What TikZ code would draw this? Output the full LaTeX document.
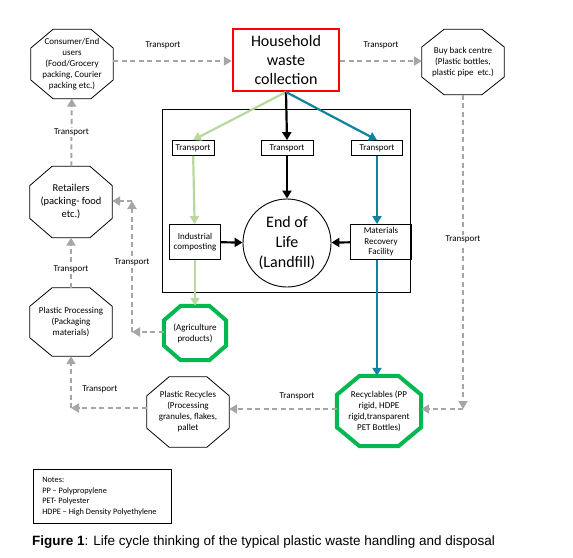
\documentclass[tikz,border=0pt]{standalone}
\usepackage{fontspec}
\setmainfont{Carlito}
\newfontfamily\capfont{Liberation Sans}
\usetikzlibrary{shapes,arrows,arrows.meta,positioning,calc}
\definecolor{dashgray}{RGB}{166,166,166}
\definecolor{lgreen}{RGB}{184,216,158}
\definecolor{tealline}{RGB}{16,132,156}
\definecolor{bgreen}{RGB}{0,184,80}
\tikzset{
octshape/.style = {append after command={\pgfextra{\draw [#1, line join=miter]
    ($(\tikzlastnode.north west)!.27!(\tikzlastnode.north east)$) -- ($(\tikzlastnode.north east)!.27!(\tikzlastnode.north west)$)
 -- ($(\tikzlastnode.north east)!.27!(\tikzlastnode.south east)$) -- ($(\tikzlastnode.south east)!.27!(\tikzlastnode.north east)$)
 -- ($(\tikzlastnode.south east)!.27!(\tikzlastnode.south west)$) -- ($(\tikzlastnode.south west)!.27!(\tikzlastnode.south east)$)
 -- ($(\tikzlastnode.south west)!.27!(\tikzlastnode.north west)$) -- ($(\tikzlastnode.north west)!.27!(\tikzlastnode.south west)$) -- cycle;}}},
octnode/.style = {rectangle, minimum width=82pt, minimum height=70pt, inner sep=0pt, align=center, font=\fontsize{9}{11}\selectfont, octshape={black, line width=0.8pt}},
greenoct/.style = {rectangle, minimum width=84pt, minimum height=70pt, inner sep=0pt, align=center, font=\fontsize{9}{11}\selectfont, octshape={bgreen, line width=4pt}},
smallbox/.style = {draw, line width=0.8pt, rectangle, minimum height=15pt, inner sep=1pt, align=center, font=\fontsize{9}{10.5}\selectfont},
lbl/.style = {text=black, font=\fontsize{9}{11}\selectfont, inner sep=1pt},
dasharrow/.style = {->, dashgray, line width=2pt, dash pattern=on 5pt off 3.5pt},
flow/.style = {->, line width=2.2pt}
}
\begin{document}
\begin{tikzpicture}[x=1pt, y=-1pt, >={Triangle[length=8pt,width=9pt]}]
        \useasboundingbox (0,0) rectangle (573,557);
        % frame round the landfill part
        \node [draw, line width=0.9pt, minimum width=248pt, minimum height=183pt] (frame) at (286,200.5) {};
        \node [draw=red, line width=2.5pt, minimum width=106pt, minimum height=62pt, align=center, font=\fontsize{16}{19}\selectfont] (household) at (286,60) {Household\\waste\\collection};
        \node [octnode, minimum height=69pt] (consumer) at (72,64) {Consumer/End\\users\\(Food/Grocery\\packing, Courier\\packing etc.)};
        \node [octnode, minimum height=65pt] (buyback) at (463,62) {Buy back centre\\(Plastic bottles,\\plastic pipe~ etc.)};
        \node [octnode, minimum height=71pt, font=\fontsize{10.5}{13}\selectfont] (retail) at (71,202) {Retailers\\(packing- food\\etc.)};
        \node [octnode, minimum height=68pt] (pproc) at (71,322) {Plastic Processing\\(Packaging\\materials)};
        \node [octnode] (precycle) at (188,412) {Plastic Recycles\\(Processing\\granules, flakes,\\pallet};
        \node [greenoct, minimum width=62pt, minimum height=54pt] (agri) at (195,333) {(Agriculture\\products)};
        \node [greenoct] (recyc) at (379,411) {Recyclables (PP\\rigid, HDPE\\rigid,transparent\\PET Bottles)};
        % inside the frame
        \node [smallbox, minimum width=42pt] (trL) at (193,148) {Transport};
        \node [smallbox, minimum width=52pt] (trM) at (287,148) {Transport};
        \node [smallbox, minimum width=51pt] (trR) at (377,148) {Transport};
        \node [smallbox, minimum width=51pt, minimum height=35pt] (compost) at (195,242) {Industrial\\composting};
        \node [smallbox, minimum width=61pt, minimum height=35pt] (mrf) at (381,242) {Materials\\Recovery\\Facility};
        \node [draw, circle, line width=0.9pt, minimum size=88pt, inner sep=0pt, align=center, font=\fontsize{16}{20}\selectfont] (eol) at (287,243) {End of\\Life\\(Landfill)};
        \node [draw, line width=0.8pt, anchor=north west, minimum width=138pt, minimum height=54pt, align=left, inner sep=3pt, font=\fontsize{8.3}{10.7}\selectfont] (notes) at (33,469) {Notes:\\PP -- Polypropylene\\PET- Polyester\\HDPE -- High Density Polyethylene\hspace*{6pt}};
        \node [anchor=west, inner sep=0pt, font=\capfont\fontsize{13.5}{16}\selectfont] (caption) at (32,542) {\textbf{Figure 1}: Life cycle thinking of the typical plastic waste handling and disposal};
        \coordinate (hsouth) at (286,92);
        \coordinate (bbc) at (463,409);
        \coordinate (pp1) at (71,408);
        \coordinate (ag1) at (132,332);
        \coordinate (ag2) at (132,201);
        % coloured flows
        \draw [flow, lgreen] (hsouth) -- (trL.north);
        \draw [flow, black] (hsouth) -- (trM.north);
        \draw [flow, tealline] (hsouth) -- (trR.north);
        \draw [flow, lgreen] (trL) -- (compost);
        \draw [flow, lgreen] (compost) -- (agri);
        \draw [flow, black] (trM) -- (eol);
        \draw [flow, tealline] (trR) -- (trR |- mrf.north);
        \draw [flow, tealline] (trR |- mrf.south) -- (recyc.north -| trR);
        \draw [flow, black] (compost) -- (eol);
        \draw [flow, black] (mrf) -- (eol);
        % transport loop
        \draw [dasharrow] (consumer.east |- 0,61) -- node [lbl, above=10pt, pos=.42, name=t1] {Transport} (household.west |- 0,61);
        \draw [dasharrow] (household.east |- 0,61) -- node [lbl, above=10pt, name=t2] {Transport} (buyback.west |- 0,61);
        \draw [dasharrow] (buyback) -- node [lbl, fill=white, pos=.46, name=t3] {Transport} (bbc);
        \draw [dasharrow] (bbc) -- (recyc.east |- bbc);
        \draw [dasharrow] (recyc.west |- 0,409) -- node [lbl, above=7pt, pos=.37, name=t4] {Transport} (precycle.east |- 0,409);
        \draw [dasharrow] (precycle.west |- pp1) -- node [lbl, above=13pt, pos=.62, name=t5] {Transport} (pp1);
        \draw [dasharrow] (pp1) -- (pproc);
        \draw [dasharrow] (pproc) -- node [lbl, fill=white, pos=.36, name=t6] {Transport} (retail);
        \draw [dasharrow] (retail) -- node [lbl, fill=white, name=t7] {Transport} (consumer);
        \draw [dasharrow] (agri.west |- ag1) -- (ag1);
        \draw [dasharrow] (ag1) -- node [lbl, fill=white, pos=.53, name=t8] {Transport} (ag2);
        \draw [dasharrow] (ag2) -- (retail.east |- ag2);
\end{tikzpicture}
\end{document}
